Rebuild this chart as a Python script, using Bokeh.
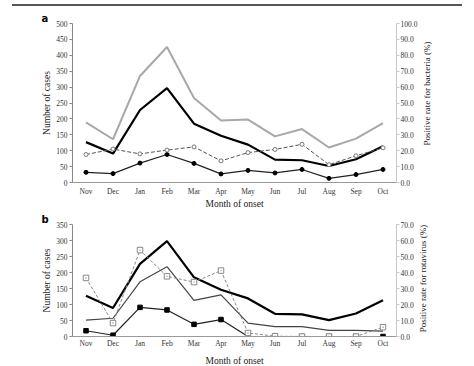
import math
from bokeh.plotting import figure
from bokeh.layouts import column, row
from bokeh.models import Range1d, LinearAxis, FixedTicker, NumeralTickFormatter, Div
from bokeh.core.properties import value
from bokeh.embed import file_html
from bokeh.resources import INLINE

months = ["Nov", "Dec", "Jan", "Feb", "Mar", "Apr", "May", "Jun", "Jul", "Aug", "Sep", "Oct"]

# Panel a
a_gray = [189, 136, 335, 426, 266, 195, 198, 145, 168, 110, 138, 187]
a_total = [127, 91, 228, 297, 185, 147, 119, 72, 70, 52, 73, 114]
a_bact_cases = [32, 28, 61, 88, 60, 27, 38, 30, 41, 13, 25, 41]
a_bact_rate = [17.6, 21.0, 18.0, 20.4, 22.4, 13.6, 18.8, 20.8, 24.0, 11.2, 16.8, 21.8]

# Panel b
b_total = [127, 89, 227, 298, 185, 146, 119, 71, 69, 51, 72, 113]
b_thin = [51, 57, 171, 218, 113, 130, 42, 31, 31, 19, 19, 17]
b_rota_cases = [18, 4, 91, 83, 38, 53, 0, 0, 0, 0, 0, 0]
b_rota_rate = [36.6, 8.4, 54.0, 37.6, 34.0, 41.2, 2.2, 0.2, 0.0, 0.0, 0.0, 5.8]

a_left_ticks = [0, 50, 100, 150, 200, 250, 300, 350, 400, 450, 500]
a_right_ticks = [0, 10, 20, 30, 40, 50, 60, 70, 80, 90, 100]
b_left_ticks = [0, 50, 100, 150, 200, 250, 300, 350]
b_right_ticks = [0, 10, 20, 30, 40, 50, 60, 70]

a_right_title = "Positive rate for bacteria (%)"
b_right_title = "Positive rate for rotavirus (%)"

SERIF = "Liberation Serif"


def style_axes(p, xlabel, ylabel, lt, rt, rmax):
    p.extra_y_ranges = {"rate": Range1d(0, rmax)}
    ra = LinearAxis(y_range_name="rate")
    p.add_layout(ra, "right")
    p.xgrid.grid_line_color = None
    p.ygrid.grid_line_color = None
    p.outline_line_color = None
    p.yaxis[0].ticker = FixedTicker(ticks=lt)
    ra.ticker = FixedTicker(ticks=rt)
    ra.formatter = NumeralTickFormatter(format="0.0")
    for ax in [p.yaxis[0], ra, p.xaxis[0]]:
        ax.major_label_text_font = SERIF
        ax.major_label_text_font_size = "7.5px"
        ax.major_label_text_color = "#333333"
        ax.axis_label_text_font = SERIF
        ax.axis_label_text_font_size = "9.5px"
        ax.axis_label_text_font_style = "normal"
        ax.axis_label_text_color = "#222222"
        ax.minor_tick_line_color = None
        ax.major_tick_in = 0
        ax.major_tick_out = 3
    p.yaxis[0].axis_label = ylabel
    p.yaxis[0].axis_line_color = "#888888"
    p.yaxis[0].major_tick_line_color = "#888888"
    p.yaxis[0].major_label_standoff = 2
    p.yaxis[0].axis_label_standoff = 1
    ra.axis_line_color = "#c8c8c8"
    ra.major_tick_line_color = "#c8c8c8"
    ra.major_label_standoff = 1
    xa = p.xaxis[0]
    xa.axis_label = xlabel
    xa.axis_line_color = "#999999"
    xa.major_tick_line_color = None
    xa.major_tick_out = 0
    xa.major_label_standoff = 4
    xa.axis_label_standoff = 0


def make_fig(fh, ymax, top, tag):
    p = figure(title=tag, x_range=months, y_range=Range1d(0, ymax), frame_width=324, frame_height=fh,
               min_border_left=72, min_border_right=20, min_border_top=top, min_border_bottom=0,
               output_backend="svg", toolbar_location=None)
    p.x_range.range_padding = 0
    t = p.title
    t.align = "left"
    t.offset = -31
    t.text_font = "DejaVu Sans"
    t.text_font_style = "bold"
    t.text_font_size = "10px"
    t.text_color = "#000000"
    t.standoff = 0
    t.text_line_height = 0.8
    return p


def side_title(text, cy, fh, top):
    f = figure(title=None, frame_width=30, frame_height=fh, x_range=Range1d(0, 30), y_range=Range1d(fh, 0),
               min_border_left=0, min_border_right=0, min_border_top=top, min_border_bottom=0,
               output_backend="svg", toolbar_location=None, x_axis_type=None, y_axis_type=None)
    f.outline_line_color = None
    f.xgrid.grid_line_color = None
    f.ygrid.grid_line_color = None
    f.text(x=[6.7], y=[cy], text=[text], angle=math.pi / 2, text_align="center", text_baseline="middle",
           text_font=value(SERIF), text_font_size="9px", text_color="#222222")
    return f


rule = Div(text='<div style="position:absolute;top:4px;left:12px;width:450px;height:2px;'
                'background:#555555;margin:0;padding:0;"></div>',
           width=462, height=7, margin=(0, 0, 0, 0), styles={"position": "relative", "overflow": "hidden"})

pa = make_fig(159, 500, 16, "a")
style_axes(pa, "Month of onset", "Number of cases", a_left_ticks, a_right_ticks, 100)
pa.line(months, a_gray, line_color="#a8a8a8", line_width=2)
pa.line(months, a_total, line_color="#000000", line_width=2.2)
pa.line(months, a_bact_cases, line_color="#222222", line_width=1.2)
pa.scatter(months, a_bact_cases, marker="circle", size=4, fill_color="#000000", line_color="#000000")
pa.line(months, a_bact_rate, y_range_name="rate", line_color="#555555", line_width=1, line_dash="4 2")
pa.scatter(months, a_bact_rate, y_range_name="rate", marker="circle", size=4, fill_color="#ffffff", line_color="#777777")
la = side_title(a_right_title, 70, 180, 16)

pb = make_fig(112, 350, 13, "b")
style_axes(pb, "Month of onset", "Number of cases", b_left_ticks, b_right_ticks, 70)
pb.xaxis[0].major_label_standoff = 2
pb.xaxis[0].axis_label_standoff = 5
pb.line(months, b_total, line_color="#000000", line_width=2.2)
pb.line(months, b_thin, line_color="#444444", line_width=1.2)
pb.line(months, b_rota_cases, line_color="#222222", line_width=1.2)
pb.scatter(months, b_rota_cases, marker="square", size=4.5, fill_color="#000000", line_color="#000000")
pb.line(months, b_rota_rate, y_range_name="rate", line_color="#888888", line_width=1, line_dash="3 2")
pb.scatter(months, b_rota_rate, y_range_name="rate", marker="square_dot", size=5.5, fill_color="#ffffff", line_color="#888888")
lb = side_title(b_right_title, 54, 130, 13)

layout = column(rule, row(pa, la, spacing=0), row(pb, lb, spacing=0), spacing=0)
open("out.html", "w").write(file_html(layout, INLINE))
